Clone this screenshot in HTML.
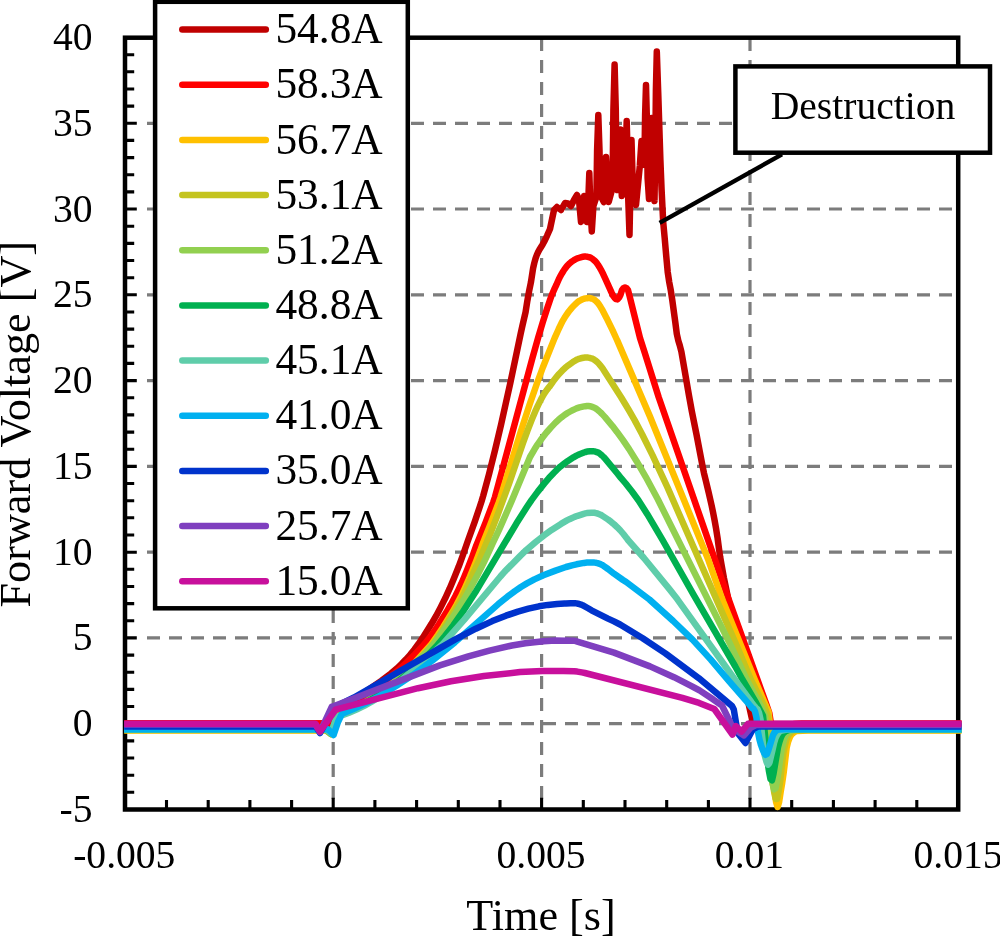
<!DOCTYPE html>
<html lang="en"><head><meta charset="utf-8"><title>Forward Voltage vs Time</title>
<style>html,body{margin:0;padding:0;background:#fff}body{width:1000px;height:939px;overflow:hidden}svg{display:block}text{font-family:"Liberation Serif",serif;fill:#000}.tk{font-size:39.6px}.lg{font-size:43.4px}.ti{font-size:44.2px}.g{stroke:#7c7c7c;stroke-width:3.2;stroke-dasharray:13 9;fill:none}.ax{stroke:#000;stroke-width:3.1;fill:none}.d{fill:none;stroke-width:6.5;stroke-linejoin:round;stroke-linecap:butt}</style></head><body>
<svg width="1000" height="939" viewBox="0 0 1000 939">
<rect width="1000" height="939" fill="#fff"/>
<path class="g" d="M147.0 723.7H958.3"/>
<path class="g" d="M147.0 637.9H958.3"/>
<path class="g" d="M147.0 552.2H958.3"/>
<path class="g" d="M147.0 466.4H958.3"/>
<path class="g" d="M147.0 380.6H958.3"/>
<path class="g" d="M147.0 294.8H958.3"/>
<path class="g" d="M147.0 209.0H958.3"/>
<path class="g" d="M147.0 123.3H958.3"/>
<path class="g" d="M333.2 38.0V809.5"/>
<path class="g" d="M541.6 38.0V809.5"/>
<path class="g" d="M750.0 38.0V809.5"/>
<rect x="125.0" y="37.7" width="833.2" height="771.8" fill="none" stroke="#000" stroke-width="4.5"/>
<path class="ax" d="M125.0 792.3h9.2M125.0 775.2h9.2M125.0 758.0h9.2M125.0 740.9h9.2M125.0 723.7h11.8M125.0 706.5h9.2M125.0 689.4h9.2M125.0 672.2h9.2M125.0 655.1h9.2M125.0 637.9h11.8M125.0 620.8h9.2M125.0 603.6h9.2M125.0 586.5h9.2M125.0 569.3h9.2M125.0 552.2h11.8M125.0 535.0h9.2M125.0 517.8h9.2M125.0 500.7h9.2M125.0 483.5h9.2M125.0 466.4h11.8M125.0 449.2h9.2M125.0 432.1h9.2M125.0 414.9h9.2M125.0 397.8h9.2M125.0 380.6h11.8M125.0 363.4h9.2M125.0 346.3h9.2M125.0 329.1h9.2M125.0 312.0h9.2M125.0 294.8h11.8M125.0 277.7h9.2M125.0 260.5h9.2M125.0 243.4h9.2M125.0 226.2h9.2M125.0 209.0h11.8M125.0 191.9h9.2M125.0 174.7h9.2M125.0 157.6h9.2M125.0 140.4h9.2M125.0 123.3h11.8M125.0 106.1h9.2M125.0 89.0h9.2M125.0 71.8h9.2M125.0 54.7h9.2M166.5 809.5v-9.4M208.2 809.5v-9.4M249.9 809.5v-9.4M291.6 809.5v-9.4M333.2 809.5v-11.8M374.9 809.5v-9.4M416.6 809.5v-9.4M458.3 809.5v-9.4M500.0 809.5v-9.4M541.6 809.5v-11.8M583.3 809.5v-9.4M625.0 809.5v-9.4M666.7 809.5v-9.4M708.4 809.5v-9.4M750.0 809.5v-11.8M791.7 809.5v-9.4M833.4 809.5v-9.4M875.1 809.5v-9.4M916.8 809.5v-9.4"/>
<polyline class="d" stroke="#c00000" points="124.2,723.5 324.0,723.5 329.0,730.0 334.0,716.1 340.0,710.7 347.6,704.6 353.6,700.0 381.6,680.6 390.9,673.5 397.1,668.3 401.5,664.1 405.8,659.6 410.1,654.8 414.4,649.5 418.6,643.8 422.8,637.7 431.5,623.8 436.1,615.9 440.6,607.4 445.2,598.3 449.7,588.4 454.2,577.7 458.8,566.3 463.3,554.0 467.9,540.8 474.7,521.9 479.8,506.7 481.5,501.5 483.1,496.1 489.1,473.8 495.1,449.9 501.1,424.4 510.2,383.5 520.7,333.5 522.3,326.3 525.6,312.0 527.4,300.6 529.1,291.2 530.9,282.4 533.1,268.3 534.3,263.0 535.5,258.6 536.8,255.0 538.1,252.1 539.5,249.5 542.5,244.7 544.0,242.0 547.0,235.8 550.0,229.0 554.0,210.0 557.0,207.0 561.0,210.0 565.0,203.0 568.0,203.5 571.0,206.0 574.0,200.0 577.0,195.0 579.0,200.0 581.0,222.0 582.6,204.0 584.0,196.0 585.4,206.0 587.0,222.0 588.3,200.0 589.3,173.0 590.3,204.0 591.8,231.4 593.4,206.0 596.4,197.0 597.1,150.0 598.3,115.0 599.5,150.0 600.2,195.0 603.8,202.0 606.0,157.0 608.7,202.0 612.5,188.0 613.4,110.0 614.6,64.5 615.8,110.0 616.5,172.0 617.3,190.0 619.2,158.0 620.4,129.5 621.8,196.0 625.0,188.0 625.8,150.0 626.7,121.0 627.6,155.0 628.2,198.0 629.5,235.0 630.4,190.0 631.5,140.0 632.9,188.0 636.0,205.0 639.8,166.0 641.5,141.0 642.8,165.0 644.5,158.0 645.1,115.0 646.0,85.0 646.9,120.0 647.6,178.0 649.0,199.0 650.4,150.0 651.5,118.0 653.0,168.0 654.5,201.0 655.3,150.0 655.9,90.0 656.8,51.5 658.2,92.0 660.4,160.0 661.6,190.0 663.2,222.0 664.7,238.2 666.2,255.6 667.7,271.9 669.2,282.0 670.8,290.4 672.3,300.3 675.3,322.3 676.8,333.9 678.3,340.6 679.8,345.5 681.4,351.7 688.9,395.1 691.9,411.7 696.5,434.5 702.5,465.9 704.0,473.2 705.6,479.7 708.6,492.2 711.6,505.4 713.1,512.6 714.6,520.4 716.1,528.8 717.6,538.3 718.9,548.1 720.1,556.6 721.4,564.1 723.9,577.9 730.9,611.7 738.9,653.0 745.3,687.1 746.9,695.3 748.5,703.4 752.2,720.0 754.0,728.9 755.5,728.8 757.0,725.0 758.5,724.3 760.0,724.0 961.5,724.0"/>
<polyline class="d" stroke="#ff0000" points="124.2,723.5 324.0,723.5 329.0,730.0 334.0,716.0 358.0,700.8 373.0,690.4 385.0,681.3 395.5,672.6 406.0,663.1 415.0,654.3 422.5,646.3 425.4,643.0 430.9,635.9 435.0,630.2 439.0,624.0 441.7,619.6 446.2,612.5 450.7,604.7 455.3,596.2 458.3,590.1 461.3,583.7 464.3,576.8 467.3,569.5 471.9,557.8 476.4,545.1 485.7,522.1 493.3,502.1 495.0,496.9 532.4,358.2 538.3,337.1 542.8,322.1 547.3,308.0 550.3,299.1 551.8,295.0 554.8,288.1 556.3,285.0 558.8,279.2 560.1,276.6 561.5,274.2 562.8,272.0 564.1,269.9 565.5,268.0 566.8,266.3 568.2,264.8 569.6,263.4 571.0,262.2 572.5,261.1 574.0,260.1 575.5,259.2 577.0,258.6 578.5,258.0 581.5,257.1 583.0,256.7 584.5,256.5 586.0,256.6 587.5,256.8 589.0,257.2 590.5,257.7 592.0,258.5 593.5,259.7 595.0,261.0 596.5,262.7 598.0,264.8 599.5,267.2 601.0,269.8 602.5,272.7 605.5,279.1 611.5,292.4 613.0,295.5 614.5,297.6 616.0,299.1 617.5,299.4 619.0,297.7 620.5,294.7 622.0,290.0 623.5,288.2 625.0,287.5 626.5,288.2 628.0,290.0 629.5,295.8 640.0,338.0 644.5,351.9 658.7,397.2 728.5,598.9 766.0,703.4 767.6,708.0 769.3,713.1 771.3,725.4 773.0,750.0 774.5,778.7 776.0,796.0 777.5,791.9 779.0,783.1 780.5,772.2 782.0,757.7 783.5,747.2 785.0,739.7 786.5,734.2 788.0,731.0 789.5,728.3 791.0,726.1 792.5,724.6 794.0,724.0 801.5,723.6 806.0,723.5 961.5,723.5"/>
<polyline class="d" stroke="#ffc000" points="124.2,730.6 326.0,730.6 331.0,734.0 337.0,717.0 340.0,714.7 343.2,712.8 346.3,711.0 351.0,708.8 364.9,702.8 369.6,700.5 374.4,697.7 379.4,694.6 384.3,691.0 391.0,685.6 399.5,678.2 409.7,668.5 431.4,644.1 438.0,634.9 443.2,627.0 452.6,611.8 456.7,604.5 460.9,596.6 464.9,588.1 469.0,578.9 475.9,561.9 480.3,550.5 483.2,542.4 490.1,525.2 498.8,502.4 500.4,497.7 520.8,431.4 529.7,404.3 537.1,383.0 543.0,367.0 547.5,355.7 554.5,338.4 558.7,329.0 561.5,323.1 563.0,320.3 564.5,317.8 566.0,315.5 567.5,313.3 569.0,311.3 572.0,307.6 573.5,306.0 576.5,303.1 578.0,301.8 579.5,300.8 581.0,300.0 582.5,299.3 584.0,298.7 585.5,298.4 587.0,298.2 588.5,298.0 590.0,298.1 591.5,298.5 593.0,299.0 594.5,299.8 596.0,301.1 597.5,302.5 599.0,304.5 600.5,306.8 602.0,309.3 606.5,317.9 612.5,330.2 617.0,340.0 617.0,339.9 650.0,416.6 708.5,560.3 721.6,597.5 723.0,601.2 754.5,678.9 767.0,708.2 768.6,711.8 771.5,736.8 773.0,765.8 774.6,790.5 776.1,802.0 777.6,807.0 779.1,802.0 780.6,792.2 782.2,782.9 783.7,772.5 786.7,747.4 788.2,741.5 789.8,737.3 791.3,734.7 792.8,733.3 794.3,732.2 795.8,731.3 797.4,730.9 808.0,730.6 961.5,730.6"/>
<polyline class="d" stroke="#c4c41f" points="124.2,730.0 326.0,730.0 331.0,734.0 337.0,717.0 340.0,715.1 347.8,711.1 364.8,702.9 372.7,698.6 379.2,694.5 385.8,689.9 394.1,683.5 402.4,676.5 410.9,668.8 418.7,660.7 430.9,646.8 432.5,645.0 433.9,643.1 440.3,633.6 446.7,623.4 449.3,619.1 455.0,610.0 460.7,600.4 464.5,592.7 469.5,581.9 473.2,573.2 478.9,560.9 483.1,550.9 486.0,543.9 490.7,532.7 496.9,516.8 509.5,482.4 523.0,442.9 527.5,430.6 532.0,419.1 535.0,411.9 538.0,405.4 541.0,399.4 542.5,396.7 544.0,394.2 545.5,391.8 547.0,389.7 548.5,387.7 550.0,386.0 553.0,381.6 556.1,377.6 559.1,373.9 562.2,370.7 565.2,367.8 568.3,365.3 572.8,362.1 575.9,360.2 577.4,359.4 578.9,358.8 582.0,358.0 583.5,357.7 585.0,357.5 586.5,357.5 588.0,357.6 589.6,357.9 591.1,358.3 592.6,358.7 594.1,359.6 595.7,360.7 597.2,362.0 598.7,363.5 600.2,365.3 601.7,367.2 603.3,369.4 621.1,397.2 628.5,409.5 634.6,420.1 642.1,434.2 652.6,455.4 667.7,487.9 737.8,648.4 750.9,679.8 763.5,704.8 768.0,715.8 771.0,760.7 772.6,781.3 774.1,791.9 775.6,798.9 777.1,798.9 778.6,791.1 780.2,780.9 783.2,753.7 784.7,746.2 786.2,740.3 787.8,736.2 789.3,734.1 790.8,732.6 792.3,731.5 793.8,730.7 795.4,730.3 806.0,730.0 961.5,730.0"/>
<polyline class="d" stroke="#92d050" points="124.2,729.8 326.0,729.8 331.0,734.0 337.0,716.9 349.1,711.2 359.6,705.5 371.7,698.1 381.0,692.0 390.2,685.2 399.5,677.7 408.7,669.6 418.0,660.6 427.4,650.9 433.6,643.9 440.7,634.6 447.9,624.6 455.0,613.9 463.6,600.0 470.8,587.5 478.0,574.1 483.8,562.6 489.5,550.3 492.4,543.9 498.8,530.4 511.5,501.4 530.0,457.0 534.5,449.3 537.5,444.6 540.5,440.3 543.5,436.3 546.5,432.5 551.0,427.4 555.5,422.6 558.5,419.8 561.5,417.3 564.5,415.0 567.5,413.0 572.0,410.5 575.0,409.1 576.5,408.4 578.0,407.9 579.5,407.4 584.0,406.4 585.5,406.2 587.0,406.0 588.5,406.0 590.0,406.2 591.5,406.6 594.5,407.7 596.0,408.6 597.5,409.8 600.5,412.4 602.0,413.9 605.0,417.1 612.5,426.1 617.0,431.9 623.0,440.2 629.1,449.1 636.6,461.2 645.7,476.8 657.8,499.3 729.2,642.2 743.5,672.6 746.4,679.0 748.1,682.2 758.7,702.0 760.5,705.4 765.0,715.8 768.0,745.2 769.5,761.9 771.0,775.0 772.5,783.7 774.0,789.4 775.5,788.4 777.0,780.8 778.5,771.9 780.0,760.1 781.5,750.0 783.0,743.5 784.5,738.2 786.0,734.7 787.5,733.0 789.0,731.8 790.5,730.9 792.0,730.3 793.5,730.0 804.0,729.8 961.5,729.8"/>
<polyline class="d" stroke="#00b050" points="124.2,729.5 326.0,729.5 331.0,733.5 337.0,716.0 337.0,716.9 350.6,710.7 362.6,704.4 374.7,697.4 385.4,690.5 396.1,682.9 405.3,675.6 414.5,667.8 423.8,659.2 433.0,649.8 437.6,644.9 444.9,636.1 453.6,624.9 462.2,612.7 475.2,592.6 516.5,523.3 527.0,506.8 531.5,500.1 537.8,491.6 544.2,483.6 548.9,478.1 553.7,473.0 558.4,468.3 559.9,466.9 559.9,467.0 564.5,463.4 567.5,461.2 573.5,457.3 576.5,455.6 579.5,454.2 584.0,452.5 585.5,452.0 587.0,451.6 590.0,451.3 593.0,451.2 594.5,451.4 596.0,451.8 597.5,452.3 599.0,453.0 600.5,454.2 602.0,455.5 603.6,457.0 605.1,458.7 617.8,474.0 620.9,478.0 620.9,477.9 625.7,483.5 632.0,491.5 638.4,500.2 647.3,514.2 662.2,539.4 693.5,594.6 735.3,666.5 742.4,679.5 755.3,701.3 756.9,704.2 763.0,715.8 764.5,730.2 767.5,761.3 769.0,771.4 770.5,779.1 772.0,780.4 773.5,773.8 778.0,747.1 779.5,741.7 781.0,737.3 782.5,734.2 784.0,732.6 785.5,731.5 787.0,730.7 788.5,730.1 790.0,729.7 802.0,729.5 961.5,729.5"/>
<polyline class="d" stroke="#5fcdaa" points="124.2,729.5 326.0,729.5 331.0,733.5 337.0,716.0 337.0,716.8 343.0,715.0 349.0,712.8 356.5,709.6 364.1,705.9 371.6,701.7 379.0,697.0 387.9,690.7 398.2,682.7 410.0,672.6 414.4,668.6 436.2,650.0 442.9,643.9 464.1,619.9 500.4,576.5 504.7,571.6 520.0,556.1 526.1,550.2 535.7,542.0 543.7,535.7 551.6,529.9 561.0,523.9 567.0,520.4 570.0,518.9 570.0,519.0 574.6,516.9 577.6,515.8 583.7,513.8 585.3,513.4 586.8,513.1 591.4,512.8 594.4,512.8 595.9,513.1 597.5,513.5 600.5,514.7 602.1,515.6 608.2,519.6 611.2,521.9 614.3,524.5 617.3,527.3 620.4,530.5 623.4,534.0 626.5,537.9 628.0,540.0 643.9,558.0 669.4,589.1 677.4,599.3 733.4,677.5 751.6,702.5 754.5,706.2 756.0,708.0 757.5,709.2 759.0,712.7 760.5,719.4 762.0,734.8 763.5,748.9 765.0,756.5 766.5,762.0 768.0,764.7 769.5,762.6 772.5,750.0 774.0,743.2 775.5,738.0 777.0,735.0 778.5,732.7 780.0,731.2 781.5,730.7 783.0,730.3 784.5,730.0 786.0,729.8 787.5,729.6 798.0,729.5 961.5,729.5"/>
<polyline class="d" stroke="#00b0f0" points="124.2,729.2 328.0,729.2 333.6,735.0 338.0,722.0 342.0,713.7 354.0,708.7 367.6,702.3 381.1,695.1 396.1,686.0 412.7,675.0 432.2,660.7 454.8,642.4 498.3,604.1 507.4,596.7 514.9,591.1 520.9,587.0 526.9,583.4 534.4,579.4 543.4,575.3 555.5,570.6 566.0,567.0 566.0,567.0 572.0,565.3 576.5,564.3 584.0,562.9 587.0,562.6 594.5,562.6 596.0,562.8 597.5,563.2 600.5,564.2 602.0,564.9 603.5,565.8 608.0,569.0 614.0,573.7 623.0,580.0 626.2,582.0 649.4,599.5 673.2,621.0 692.5,639.6 710.8,659.6 729.0,681.1 749.0,704.2 752.0,707.9 752.0,708.0 753.5,708.9 755.0,711.4 756.5,717.8 758.0,732.1 759.5,739.7 761.0,745.0 762.5,749.3 764.0,752.8 765.5,754.8 767.0,753.9 768.5,749.8 773.0,735.1 774.5,732.4 776.0,730.9 777.5,729.9 779.0,729.6 785.0,729.2 961.5,729.2"/>
<polyline class="d" stroke="#0033cc" points="124.2,726.6 316.0,726.6 320.0,733.0 326.0,722.0 333.0,708.0 354.0,697.5 454.8,639.6 475.8,628.7 492.3,621.1 505.9,615.7 517.9,611.6 528.4,608.7 538.9,606.3 548.0,604.9 557.0,604.0 564.5,603.6 566.0,603.6 566.0,603.5 570.5,603.2 575.0,603.2 576.5,603.4 578.0,603.7 581.0,604.6 582.5,605.2 588.5,608.5 591.5,610.3 608.0,618.6 614.0,621.4 620.1,624.5 642.7,638.2 665.4,653.4 698.7,678.1 732.0,706.0 733.8,709.5 737.7,733.0 745.5,743.0 753.0,729.0 758.0,726.6 961.5,726.6"/>
<polyline class="d" stroke="#7f3fbf" points="124.2,724.5 315.4,724.5 320.0,732.0 331.6,707.0 331.6,707.1 439.8,665.4 468.3,656.4 489.4,650.6 511.9,645.5 525.4,643.2 543.5,641.2 555.5,640.6 566.0,640.7 566.0,640.6 572.0,640.7 573.5,640.7 575.0,640.9 576.5,641.3 614.0,652.6 650.0,666.4 674.0,677.2 692.0,686.3 699.5,690.4 713.0,699.3 720.5,704.5 722.0,705.5 731.0,724.0 737.0,731.0 744.0,735.5 750.7,727.7 756.0,725.0 961.5,725.0"/>
<polyline class="d" stroke="#c8109c" points="124.2,723.7 315.4,723.7 320.0,731.3 335.5,709.8 335.5,709.7 418.0,688.2 451.0,681.2 484.0,676.0 520.0,672.1 542.5,670.9 563.5,670.9 574.2,671.3 577.2,671.6 581.8,672.4 584.9,673.0 682.4,697.9 699.1,702.9 714.3,709.0 732.5,734.5 735.8,726.0 741.6,731.6 748.0,723.8 961.5,723.8"/>
<rect x="155.1" y="1.8" width="252.7" height="606.5" fill="#fff" stroke="#000" stroke-width="4.5"/>
<path class="d" style="stroke-linecap:round" stroke="#c00000" d="M182.3 29.6H265.8"/>
<text class="lg" x="275.4" y="43.2">54.8A</text>
<path class="d" style="stroke-linecap:round" stroke="#ff0000" d="M182.3 84.8H265.8"/>
<text class="lg" x="275.4" y="98.3">58.3A</text>
<path class="d" style="stroke-linecap:round" stroke="#ffc000" d="M182.3 139.9H265.8"/>
<text class="lg" x="275.4" y="153.5">56.7A</text>
<path class="d" style="stroke-linecap:round" stroke="#c4c41f" d="M182.3 195.1H265.8"/>
<text class="lg" x="275.4" y="208.6">53.1A</text>
<path class="d" style="stroke-linecap:round" stroke="#92d050" d="M182.3 250.2H265.8"/>
<text class="lg" x="275.4" y="263.8">51.2A</text>
<path class="d" style="stroke-linecap:round" stroke="#00b050" d="M182.3 305.4H265.8"/>
<text class="lg" x="275.4" y="318.9">48.8A</text>
<path class="d" style="stroke-linecap:round" stroke="#5fcdaa" d="M182.3 360.6H265.8"/>
<text class="lg" x="275.4" y="374.1">45.1A</text>
<path class="d" style="stroke-linecap:round" stroke="#00b0f0" d="M182.3 415.7H265.8"/>
<text class="lg" x="275.4" y="429.3">41.0A</text>
<path class="d" style="stroke-linecap:round" stroke="#0033cc" d="M182.3 470.9H265.8"/>
<text class="lg" x="275.4" y="484.4">35.0A</text>
<path class="d" style="stroke-linecap:round" stroke="#7f3fbf" d="M182.3 526.0H265.8"/>
<text class="lg" x="275.4" y="539.6">25.7A</text>
<path class="d" style="stroke-linecap:round" stroke="#c8109c" d="M182.3 581.2H265.8"/>
<text class="lg" x="275.4" y="594.7">15.0A</text>
<path d="M659.6 222.8L782 154.4" stroke="#000" stroke-width="4.3" fill="none"/>
<rect x="735.4" y="66.4" width="254.6" height="86.3" fill="#fff" stroke="#000" stroke-width="4.5"/>
<text class="tk" x="863" y="118.5" text-anchor="middle">Destruction</text>
<text class="tk" x="92.6" y="822.0" text-anchor="end">-5</text>
<text class="tk" x="92.6" y="736.2" text-anchor="end">0</text>
<text class="tk" x="92.6" y="650.4" text-anchor="end">5</text>
<text class="tk" x="92.6" y="564.7" text-anchor="end">10</text>
<text class="tk" x="92.6" y="478.9" text-anchor="end">15</text>
<text class="tk" x="92.6" y="393.1" text-anchor="end">20</text>
<text class="tk" x="92.6" y="307.3" text-anchor="end">25</text>
<text class="tk" x="92.6" y="221.5" text-anchor="end">30</text>
<text class="tk" x="92.6" y="135.8" text-anchor="end">35</text>
<text class="tk" x="92.6" y="50.0" text-anchor="end">40</text>
<text class="tk" x="124.3" y="868.2" text-anchor="middle">-0.005</text>
<text class="tk" x="332.8" y="868.2" text-anchor="middle">0</text>
<text class="tk" x="541.1" y="868.2" text-anchor="middle">0.005</text>
<text class="tk" x="749.5" y="868.2" text-anchor="middle">0.01</text>
<text class="tk" x="958.0" y="868.2" text-anchor="middle">0.015</text>
<text class="ti" x="541" y="930.4" text-anchor="middle">Time [s]</text>
<text class="ti" transform="translate(30.4 424.2) rotate(-90)" text-anchor="middle">Forward Voltage [V]</text>
</svg></body></html>
